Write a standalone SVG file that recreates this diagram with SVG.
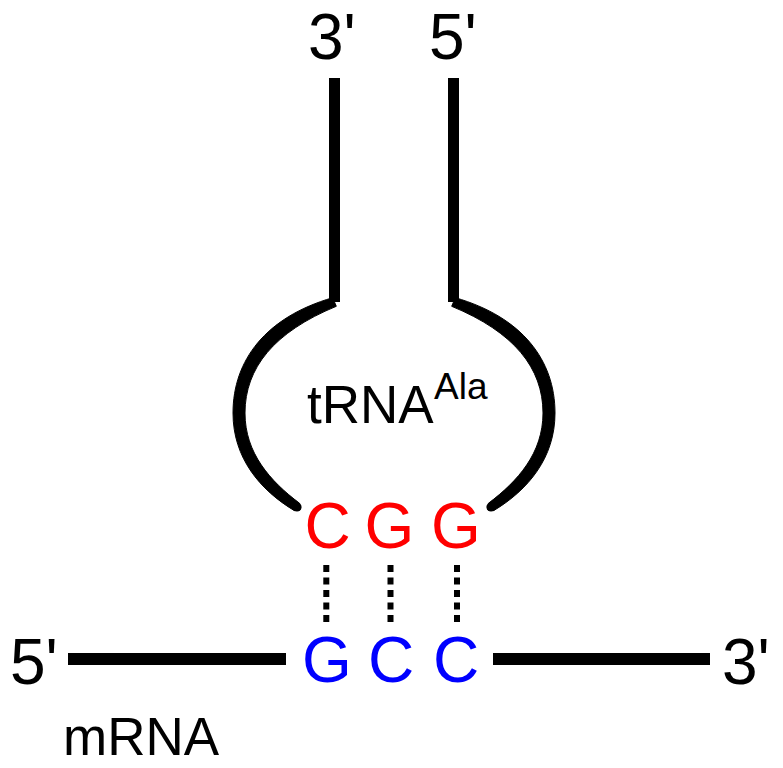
<svg xmlns="http://www.w3.org/2000/svg" width="783" height="768" viewBox="0 0 783 768">
  <style>
    text { font-family: "Liberation Sans", Arial, sans-serif; }
    .lbl { font-size: 64px; fill: #000; }
    .name { font-size: 53px; fill: #000; }
    .sup { font-size: 37px; fill: #000; }
    .red { font-size: 64px; fill: #ff0000; text-anchor: middle; }
    .blue { font-size: 64px; fill: #0000ff; text-anchor: middle; }
    .strand { stroke: #000; stroke-width: 11; fill: none; }
    .mrna { stroke: #000; stroke-width: 12; fill: none; }
    .arc { fill: #000; stroke: #000; stroke-width: 1; stroke-linejoin: round; }
    .bond { stroke: #000; stroke-width: 6; stroke-dasharray: 7 5.5; fill: none; }
  </style>
  <defs>
    <g id="halfloop">
      <path class="arc" d="M332.7,297.7 C266,317 233,360 233,413 C233,458 260,490 294.4,510.7 L299.6,503.3 C270,481 245,453 245,413 C245,368 274,332 336.3,306.3 Z"/>
      <circle cx="297" cy="507" r="4.6" fill="#000"/>
    </g>
  </defs>
  <g id="connectors">
    <line class="strand" x1="334.5" y1="78" x2="334.5" y2="302"/>
    <line class="strand" x1="453.5" y1="78" x2="453.5" y2="302"/>
    <use href="#halfloop"/>
    <use href="#halfloop" transform="matrix(-1 0 0 1 788 0)"/>
    <line class="mrna" x1="68" y1="659" x2="286" y2="659"/>
    <line class="mrna" x1="493" y1="659" x2="710" y2="659"/>
    <line class="bond" x1="326.3" y1="565" x2="326.3" y2="625"/>
    <line class="bond" x1="390.5" y1="565" x2="390.5" y2="625"/>
    <line class="bond" x1="457" y1="565" x2="457" y2="625"/>
  </g>
  <g id="trna-labels">
    <text class="lbl" x="308" y="59">3'</text>
    <text class="lbl" x="429" y="59">5'</text>
    <text class="name" x="307" y="423">tRNA<tspan class="sup" x="434" y="399">Ala</tspan></text>
  </g>
  <g id="anticodon">
    <text class="red" x="327.5" y="548">C</text>
    <text class="red" x="389.5" y="548">G</text>
    <text class="red" x="455.8" y="548">G</text>
  </g>
  <g id="codon">
    <text class="blue" x="327" y="682">G</text>
    <text class="blue" x="391" y="682">C</text>
    <text class="blue" x="456" y="682">C</text>
  </g>
  <g id="mrna-labels">
    <text class="lbl" x="10" y="684">5'</text>
    <text class="lbl" x="722" y="684">3'</text>
    <text class="name" x="63" y="755">mRNA</text>
  </g>
</svg>
